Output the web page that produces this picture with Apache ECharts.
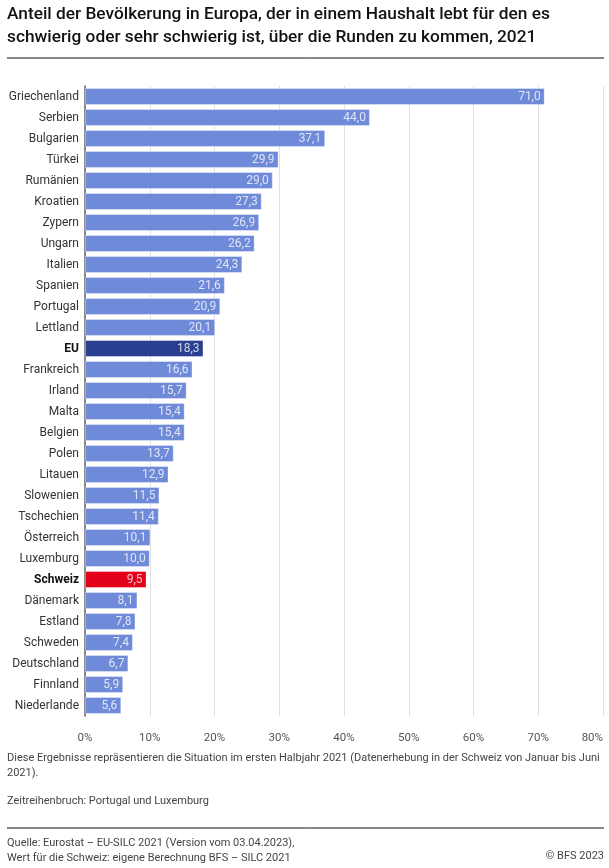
<!DOCTYPE html>
<html><head><meta charset="utf-8">
<script src="https://cdn.jsdelivr.net/npm/echarts@6/dist/echarts.min.js"></script>
<style>html,body{margin:0;padding:0;background:#fff;}#c{width:609px;height:868px;}</style>
</head><body><div id="c"></div>
<script>
const categories = ["Griechenland","Serbien","Bulgarien","Türkei","Rumänien","Kroatien","Zypern","Ungarn","Italien","Spanien","Portugal","Lettland","EU","Frankreich","Irland","Malta","Belgien","Polen","Litauen","Slowenien","Tschechien","Österreich","Luxemburg","Schweiz","Dänemark","Estland","Schweden","Deutschland","Finnland","Niederlande"];
const values = [71.0,44.0,37.1,29.9,29.0,27.3,26.9,26.2,24.3,21.6,20.9,20.1,18.3,16.6,15.7,15.4,15.4,13.7,12.9,11.5,11.4,10.1,10.0,9.5,8.1,7.8,7.4,6.7,5.9,5.6];
const xTicks = [0,10,20,30,40,50,60,70,80];
const highlight = {"EU":"#2a3f8f","Schweiz":"#e2001a"};
const baseColor = "#6f8ad8";

const chart = echarts.init(document.getElementById('c'));
const F = 'Roboto, "Noto Sans", sans-serif';
chart.setOption({
  animation:false,
  textStyle:{fontFamily:F},
  graphic:[
    {type:'text',left:7,top:3,style:{text:'Anteil der Bevölkerung in Europa, der in einem Haushalt lebt für den es\nschwierig oder sehr schwierig ist, über die Runden zu kommen, 2021',font:'500 17.3px '+F,fill:'#111',lineHeight:23}},
    {type:'line',shape:{x1:7,y1:58,x2:604,y2:58},style:{stroke:'#111',lineWidth:1}},
    {type:'text',left:7,top:751,style:{text:'Diese Ergebnisse repräsentieren die Situation im ersten Halbjahr 2021 (Datenerhebung in der Schweiz von Januar bis Juni\n2021).',font:'11px '+F,fill:'#444',lineHeight:15}},
    {type:'text',left:7,top:796,style:{text:'Zeitreihenbruch: Portugal und Luxemburg',font:'11px '+F,fill:'#444'}},
    {type:'line',shape:{x1:7,y1:828,x2:604,y2:828},style:{stroke:'#111',lineWidth:1}},
    {type:'text',left:7,top:836,style:{text:'Quelle: Eurostat – EU-SILC 2021 (Version vom 03.04.2023),\nWert für die Schweiz: eigene Berechnung BFS – SILC 2021',font:'11px '+F,fill:'#444',lineHeight:15}},
    {type:'text',right:5,top:851,style:{text:'© BFS 2023',font:'11px '+F,fill:'#444'}}
  ],
  grid:{left:85,right:6,top:86,height:630,containLabel:false,outerBoundsMode:'none'},
  xAxis:{type:'value',min:0,max:80,interval:10,
    axisLine:{show:false},axisTick:{show:false},
    splitLine:{lineStyle:{color:'#e0e0e0',width:1}},
    axisLabel:{formatter:v=>xTicks.includes(v)?v+'%':'',color:'#555',fontSize:11.5,margin:16,fontFamily:F,alignMaxLabel:'right'}},
  yAxis:{type:'category',data:categories,inverse:true,
    axisLine:{show:true,lineStyle:{color:'#666',width:1.5}},axisTick:{show:false},
    axisLabel:{color:'#333',fontSize:12,margin:6,fontFamily:F,
      formatter:v=>highlight[v]?'{b|'+v+'}':v,
      rich:{b:{fontWeight:'bold',color:'#111',fontSize:12,fontFamily:F}}}},
  series:[{type:'bar',barWidth:17,
    data:values.map((v,i)=>({value:v,itemStyle:{color:highlight[categories[i]]||baseColor}})),
    itemStyle:{borderColor:'rgba(255,255,255,0.35)',borderWidth:1},
    label:{show:true,position:'insideRight',distance:4,color:'rgba(255,255,255,0.78)',fontSize:12,fontFamily:F,
      formatter:p=>p.value.toFixed(1).replace('.',',')}}]
});
</script></body></html>
